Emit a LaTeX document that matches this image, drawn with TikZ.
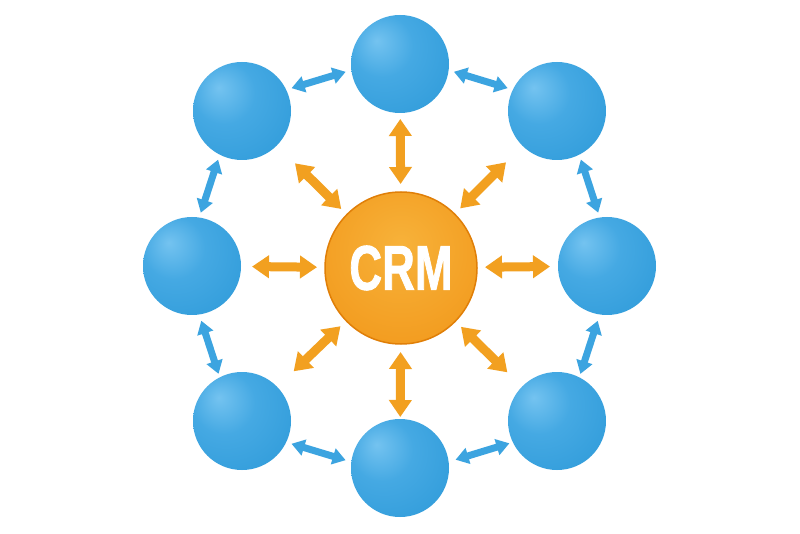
\documentclass[tikz,border=0pt]{standalone}
\usepackage{fontspec}
\setmainfont{Liberation Sans}
\newfontfamily\crmfont[FakeBold=1.6]{Liberation Sans Bold}
\usetikzlibrary{arrows.meta,calc}

\definecolor{blueHi}{HTML}{74C3F0}
\definecolor{blueMid}{HTML}{45A9E3}
\definecolor{blueEdge}{HTML}{2C99D8}
\definecolor{orangeHi}{HTML}{F7B23A}
\definecolor{orangeMid}{HTML}{F39E22}
\definecolor{orangeEdge}{HTML}{EA8A0C}
\definecolor{orangeRim}{HTML}{E07F08}
\definecolor{arrowOrange}{HTML}{F2A020}
\definecolor{arrowBlue}{HTML}{3CA4E0}

\pgfdeclareradialshading{bluesphere}{\pgfpoint{-12bp}{12bp}}{%
  color(0bp)=(blueHi); color(16bp)=(blueMid); color(44bp)=(blueEdge); color(70bp)=(blueEdge)}
\pgfdeclareradialshading{orangesphere}{\pgfpoint{0bp}{8bp}}{%
  color(0bp)=(orangeHi); color(28bp)=(orangeMid); color(48bp)=(orangeEdge); color(70bp)=(orangeEdge)}

\tikzset{
  bubble/.style={circle, minimum size=98pt, inner sep=0pt, shade, shading=bluesphere},
  hub/.style={circle, minimum size=152pt, inner sep=0pt, shade, shading=orangesphere,
    draw=orangeRim, line width=1.5pt, text=white, font=\crmfont\fontsize{63}{63}\selectfont},
  orangearrow/.style={draw=arrowOrange, line width=9pt, >={Triangle[width=22pt,length=17pt]}, <->},
  bluearrow/.style={draw=arrowBlue, line width=7pt, >={Triangle[width=16pt,length=13pt]}, <->}
}

\begin{document}
\begin{tikzpicture}[x=1pt,y=-1pt]
\useasboundingbox (0,0) rectangle (800,534);
\fill[white] (0,0) rectangle (800,534);

% the hub and the ring of bubbles
\node[hub] (crm) at (401,268) {\scalebox{0.72}[1]{CRM}};

\node[bubble] (t)  at (400,64)  {};
\node[bubble] (tr) at (557,111) {};
\node[bubble] (r)  at (607,266) {};
\node[bubble] (br) at (557,421) {};
\node[bubble] (b)  at (400,468) {};
\node[bubble] (bl) at (242,421) {};
\node[bubble] (l)  at (192,266) {};
\node[bubble] (tl) at (242,111) {};

% spokes from the hub
\draw[orangearrow] ($(crm)!84pt!(t)$)  -- ($(crm)!149pt!(t)$);  % to top
\draw[orangearrow] ($(crm)!84pt!(tr)$) -- ($(crm)!149pt!(tr)$); % to top right
\draw[orangearrow] ($(crm)!84pt!(r)$)  -- ($(crm)!149pt!(r)$);  % to right
\draw[orangearrow] ($(crm)!84pt!(br)$) -- ($(crm)!149pt!(br)$); % to bottom right
\draw[orangearrow] ($(crm)!84pt!(b)$)  -- ($(crm)!149pt!(b)$);  % to bottom
\draw[orangearrow] ($(crm)!84pt!(bl)$) -- ($(crm)!149pt!(bl)$); % to bottom left
\draw[orangearrow] ($(crm)!84pt!(l)$)  -- ($(crm)!149pt!(l)$);  % to left
\draw[orangearrow] ($(crm)!84pt!(tl)$) -- ($(crm)!149pt!(tl)$); % to top left

% links round the ring
\draw[bluearrow] ($($(tl)!.34!(t)$)!-8pt!(crm)$) -- ($($(tl)!.67!(t)$)!-8pt!(crm)$);  % top left to top
\draw[bluearrow] ($($(t)!.33!(tr)$)!-8pt!(crm)$) -- ($($(t)!.66!(tr)$)!-8pt!(crm)$);  % top to top right
\draw[bluearrow] ($($(tr)!.34!(r)$)!-8pt!(crm)$) -- ($($(tr)!.67!(r)$)!-8pt!(crm)$);  % top right to right
\draw[bluearrow] ($($(r)!.34!(br)$)!-8pt!(crm)$) -- ($($(r)!.67!(br)$)!-8pt!(crm)$);  % right to bottom right
\draw[bluearrow] ($($(br)!.33!(b)$)!-8pt!(crm)$) -- ($($(br)!.66!(b)$)!-8pt!(crm)$);  % bottom right to bottom
\draw[bluearrow] ($($(bl)!.34!(b)$)!-8pt!(crm)$) -- ($($(bl)!.67!(b)$)!-8pt!(crm)$);  % bottom left to bottom
\draw[bluearrow] ($($(l)!.34!(bl)$)!-8pt!(crm)$) -- ($($(l)!.67!(bl)$)!-8pt!(crm)$);  % left to bottom left
\draw[bluearrow] ($($(tl)!.34!(l)$)!-8pt!(crm)$) -- ($($(tl)!.67!(l)$)!-8pt!(crm)$);  % top left to left

\end{tikzpicture}
\end{document}
